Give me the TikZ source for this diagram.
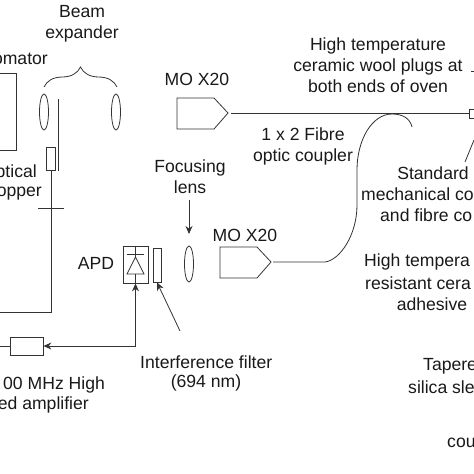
\documentclass[tikz,border=0pt]{standalone}
\usepackage{fontspec}
\setmainfont{Liberation Sans}
\usetikzlibrary{positioning, arrows.meta, shapes.geometric, decorations.pathreplacing}
\newcommand{\objective}[3]{% name, left/top corner, width
  \coordinate (#1) at #2;
  \draw[optic] (#1) -- ++(#3-14,0) -- ++(14,15) coordinate (#1tip) -- ++(-14,16) -- ++(14-#3,0) -- cycle;
}

\begin{document}
\begin{tikzpicture}[
  x=1pt, y=-1pt,
  >={Stealth[length=8pt, width=7pt]},
  optic/.style={draw=black!80, line width=0.8pt},
  lens/.style={optic, ellipse, inner sep=0pt, minimum width=9pt, minimum height=36pt},
  block/.style={optic, inner sep=0pt},
  label/.style={inner sep=0pt, text=black!90, align=center, font=\fontsize{17.6}{21}\selectfont}
]
  \clip (0,0) rectangle (474,474);
  \useasboundingbox (0,0) rectangle (474,474);

  % Monochromator and beam expander
  \node[label, anchor=east] (mono) at (48,59) {omator};
  \draw[optic] (0,73) -- (16,73) -- (16,150) -- (0,150);
  \node[label] (beam) at (82,24) {Beam\\expander};
  \node[lens] (lensa) at (44,112) {};
  \node[lens] (lensb) at (116,112) {};
  \draw[optic, decorate, decoration={brace, amplitude=20pt, aspect=0.5}] (44,87) -- (117,87);

  % Chopper
  \node[block, minimum width=9pt, minimum height=23pt] (chop) at (51,158.5) {};
  \draw[optic] (58,99) -- (58,171);
  \coordinate (corner) at (51,312);
  \coordinate (leftend) at (0,312);
  \draw[optic] (chop.south) -- (corner) -- (leftend);
  \draw[optic] (38,208.7) -- (64,208.7);
  \node[label, anchor=east] (optical) at (37,173) {ptical};
  \node[label, anchor=east] (chopper) at (42,194) {opper};

  % Objectives and fibres
  \node[label] (moa) at (197,79) {MO X20};
  \objective{obja}{(177,98)}{51}
  \node[label] (mob) at (245,235) {MO X20};
  \objective{objb}{(220,247)}{51}
  \node[block, minimum width=8pt, minimum height=9pt, anchor=west] (conn) at (469,113.5) {};
  \draw[optic] (obja) ++(54,15.5) -- (conn.west);
  \draw[optic] (objb) ++(53,15) -- (325,262)
    .. controls (340,260) and (357,235) .. (357,205)
    -- (357,170)
    .. controls (357,140) and (372,114) .. (392,114)
    .. controls (402,114) and (410,118) .. (412,127);
  \node[label] (fibre) at (303,146) {1 x 2 Fibre\\optic coupler};
  \node[label] (plugs) at (378,65.5) {High temperature\\ceramic wool plugs at\\both ends of oven};
  \draw[optic] (471,71) -- (474,71);
  \draw[optic] (465,162) -- (474,140);

  % Detection arm
  \node[label] (focus) at (190,177) {Focusing\\lens};
  \node[lens] (lensc) at (189,264) {};
  \coordinate (focustip) at (189,234);
  \draw[optic, ->] (189,200) -- (focustip);
  \node[label] (apd) at (96,263) {APD};
  \node[block, minimum width=25pt, minimum height=37pt] (apdbox) at (135.5,264.5) {};
  \draw[optic] (127,274) -- (144,274) -- (135.5,257) -- cycle;
  \draw[optic] (127,254) -- (144,254);
  \draw[optic] (apdbox.north) -- (135.5,257);
  \node[block, minimum width=8pt, minimum height=34pt] (filter) at (157,265) {};
  \node[label, anchor=west] (inter) at (140,362) {Interference filter};
  \node[label] (nm) at (206,383) {(694 nm)};
  \draw[optic, ->] (180,331) -- (filter.south);

  % Amplifier
  \node[block, minimum width=33pt, minimum height=18pt] (amp) at (26.5,346) {};
  \coordinate (bend) at (135.5,346);
  \draw[optic, ->] (bend) -- (amp.east);
  \draw[optic, ->] (bend) -- (apdbox.south);
  \draw[optic] (apdbox.south) -- (135.5,274);
  \draw[optic] (amp.west) -- (0,346);
  \node[label, anchor=west] (mhz) at (3,385) {00 MHz High};
  \node[label, anchor=east] (ampl) at (89,405) {ed amplifier};

  % Right hand labels
  \node[label, anchor=center] (standard) at (433,173) {Standard};
  \node[label, anchor=west] (mech) at (361,194) {mechanical co};
  \node[label, anchor=west] (fibrec) at (380,215) {and fibre co};
  \node[label, anchor=west] (hta) at (364,262) {High tempera};
  \node[label, anchor=west] (htb) at (365,283) {resistant cera};
  \node[label] (adh) at (432,304) {adhesive};
  \node[label, anchor=west] (taper) at (423,366) {Tapere};
  \node[label, anchor=west] (silica) at (408,387) {silica sle};
  \node[label, anchor=west] (cou) at (447,443) {cou};
\end{tikzpicture}
\end{document}
